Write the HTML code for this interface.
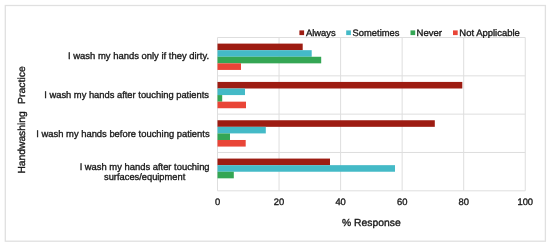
<!DOCTYPE html>
<html><head><meta charset="utf-8"><style>
html,body{margin:0;padding:0;background:#fff;width:550px;height:246px;overflow:hidden}
svg{display:block}
text{font-family:"Liberation Sans",Arial,sans-serif;fill:#1a1a1a;text-rendering:geometricPrecision;stroke:#1a1a1a;stroke-width:0.35px}
</style></head><body>
<svg width="550" height="246" viewBox="0 0 550 246">
<rect x="5.3" y="5.5" width="540.1" height="235.7" fill="#fff" stroke="#e0e0e0" stroke-width="1.3"/>
<line x1="279.05" y1="37.5" x2="279.05" y2="190.8" stroke="#dedede" stroke-width="1"/>
<line x1="340.60" y1="37.5" x2="340.60" y2="190.8" stroke="#dedede" stroke-width="1"/>
<line x1="402.15" y1="37.5" x2="402.15" y2="190.8" stroke="#dedede" stroke-width="1"/>
<line x1="463.70" y1="37.5" x2="463.70" y2="190.8" stroke="#dedede" stroke-width="1"/>
<line x1="525.25" y1="37.5" x2="525.25" y2="190.8" stroke="#dedede" stroke-width="1"/>
<line x1="217.5" y1="37.50" x2="525.25" y2="37.50" stroke="#dedede" stroke-width="1"/>
<line x1="217.5" y1="75.83" x2="525.25" y2="75.83" stroke="#dedede" stroke-width="1"/>
<line x1="217.5" y1="114.15" x2="525.25" y2="114.15" stroke="#dedede" stroke-width="1"/>
<line x1="217.5" y1="152.48" x2="525.25" y2="152.48" stroke="#dedede" stroke-width="1"/>
<line x1="217.5" y1="190.80" x2="525.25" y2="190.80" stroke="#dedede" stroke-width="1"/>
<line x1="217.5" y1="37.5" x2="217.5" y2="190.8" stroke="#dedede" stroke-width="1"/>
<rect x="217.5" y="43.60" width="85.20" height="6.58" fill="#9d1c12"/>
<rect x="217.5" y="50.18" width="94.20" height="6.58" fill="#44bac7"/>
<rect x="217.5" y="56.76" width="103.70" height="6.58" fill="#34a654"/>
<rect x="217.5" y="63.34" width="23.50" height="6.58" fill="#e94537"/>
<rect x="217.5" y="81.92" width="244.80" height="6.58" fill="#9d1c12"/>
<rect x="217.5" y="88.50" width="27.50" height="6.58" fill="#44bac7"/>
<rect x="217.5" y="95.08" width="4.70" height="6.58" fill="#34a654"/>
<rect x="217.5" y="101.66" width="28.50" height="6.58" fill="#e94537"/>
<rect x="217.5" y="120.25" width="217.30" height="6.58" fill="#9d1c12"/>
<rect x="217.5" y="126.83" width="48.30" height="6.58" fill="#44bac7"/>
<rect x="217.5" y="133.41" width="12.50" height="6.58" fill="#34a654"/>
<rect x="217.5" y="139.99" width="28.20" height="6.58" fill="#e94537"/>
<rect x="217.5" y="158.58" width="112.50" height="6.58" fill="#9d1c12"/>
<rect x="217.5" y="165.16" width="177.50" height="6.58" fill="#44bac7"/>
<rect x="217.5" y="171.74" width="16.30" height="6.58" fill="#34a654"/>
<rect x="299.4" y="30.4" width="4.7" height="4.7" fill="#9d1c12"/>
<text x="306.00" y="35.8" font-size="9.33" textLength="29.70" lengthAdjust="spacingAndGlyphs">Always</text>
<rect x="346.2" y="30.4" width="4.7" height="4.7" fill="#44bac7"/>
<text x="352.62" y="35.8" font-size="9.33" textLength="46.76" lengthAdjust="spacingAndGlyphs">Sometimes</text>
<rect x="410.5" y="30.4" width="4.7" height="4.7" fill="#34a654"/>
<text x="416.53" y="35.8" font-size="9.33" textLength="25.51" lengthAdjust="spacingAndGlyphs">Never</text>
<rect x="453.0" y="30.4" width="4.7" height="4.7" fill="#e94537"/>
<text x="459.34" y="35.8" font-size="9.33" textLength="60.46" lengthAdjust="spacingAndGlyphs">Not Applicable</text>
<text x="68.03" y="59.3" font-size="9.5" textLength="141.02" lengthAdjust="spacingAndGlyphs">I wash my hands only if they dirty.</text>
<text x="44.24" y="97.9" font-size="9.5" textLength="164.74" lengthAdjust="spacingAndGlyphs">I wash my hands after touching patients</text>
<text x="36.34" y="136.7" font-size="9.5" textLength="173.29" lengthAdjust="spacingAndGlyphs">I wash my hands before touching patients</text>
<text x="79.64" y="169.9" font-size="9.5" textLength="129.98" lengthAdjust="spacingAndGlyphs">I wash my hands after touching</text>
<text x="104.06" y="180.0" font-size="9.5" textLength="81.19" lengthAdjust="spacingAndGlyphs">surfaces/equipment</text>
<text x="217.50" y="204.8" font-size="9.4" text-anchor="middle">0</text>
<text x="279.05" y="204.8" font-size="9.4" text-anchor="middle">20</text>
<text x="340.60" y="204.8" font-size="9.4" text-anchor="middle">40</text>
<text x="402.15" y="204.8" font-size="9.4" text-anchor="middle">60</text>
<text x="463.70" y="204.8" font-size="9.4" text-anchor="middle">80</text>
<text x="525.25" y="204.8" font-size="9.4" text-anchor="middle">100</text>
<text x="342.02" y="225.6" font-size="10.2" textLength="58.68" lengthAdjust="spacingAndGlyphs">% Response</text>
<text transform="translate(25.4,0) rotate(-90)" y="0" font-size="10.2"><tspan x="-173.56" textLength="62.17" lengthAdjust="spacingAndGlyphs">Handwashing</tspan> <tspan x="-103.97" textLength="37.72" lengthAdjust="spacingAndGlyphs">Practice</tspan></text>
</svg>
</body></html>
